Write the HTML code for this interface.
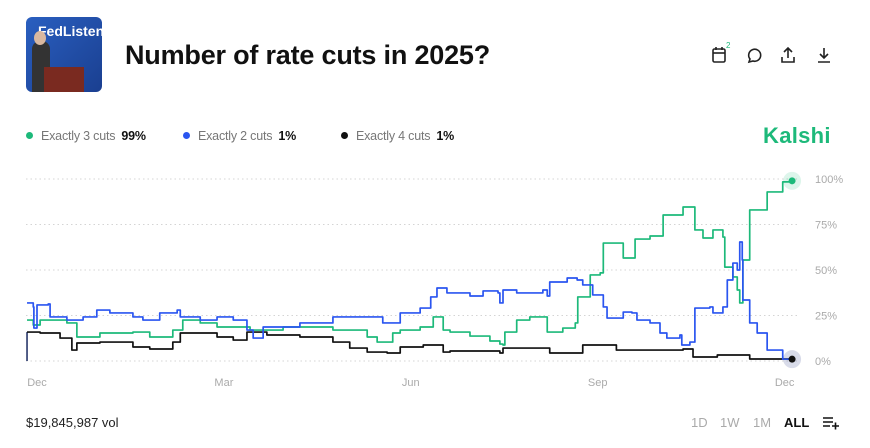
<!DOCTYPE html>
<html><head><meta charset="utf-8"><style>
body{margin:0;width:870px;height:448px;background:#fff;font-family:"Liberation Sans",sans-serif;position:relative;overflow:hidden}
.abs{position:absolute}
.leg{font-size:12.5px;color:#777;top:129px;letter-spacing:-0.2px}
.leg b{color:#111;font-weight:600;margin-left:6px}
.dot{display:inline-block;width:7px;height:7px;border-radius:50%;margin-right:8px;vertical-align:1px}
.rb{font-size:13px;color:#aaa;top:415px}
</style></head><body>
<div class="abs" style="left:26px;top:17px;width:76px;height:75px;border-radius:6px;background:linear-gradient(135deg,#2a5fc0,#1a3f90);overflow:hidden">
 <div class="abs" style="left:12px;top:6px;color:#fff;font-weight:bold;font-size:14px">FedListen</div>
 <div class="abs" style="left:6px;top:24px;width:18px;height:51px;background:#333;border-radius:8px 8px 0 0"></div>
 <div class="abs" style="left:8px;top:14px;width:12px;height:14px;background:#d9b8a0;border-radius:50%"></div>
 <div class="abs" style="left:18px;top:50px;width:40px;height:25px;background:#7a2a20"></div>
</div>
<div class="abs" style="left:125px;top:40px;font-size:27px;font-weight:600;color:#111;letter-spacing:-0.2px">Number of rate cuts in 2025?</div>
<svg class="abs" style="left:706px;top:42px" width="130" height="28">
 <g fill="none" stroke="#222" stroke-width="1.6"><rect x="7" y="7" width="12" height="13" rx="1.5"/><line x1="7" y1="11" x2="19" y2="11"/><line x1="10" y1="5" x2="10" y2="8"/><line x1="16" y1="5" x2="16" y2="8"/></g>
 <text x="20" y="6" font-size="8" fill="#1db97a" font-family="Liberation Sans">2</text>
 <path d="M43 20 l1-3 a6 6 0 1 1 3 2 z" fill="none" stroke="#222" stroke-width="1.6"/>
 <g fill="none" stroke="#222" stroke-width="1.6"><path d="M82 6 v10 M78 10 l4-4 4 4 M76 15 v5 h12 v-5"/></g>
 <g fill="none" stroke="#222" stroke-width="1.6"><path d="M118 6 v10 M114 12 l4 4 4-4 M112 20 h12"/></g>
</svg>
<div class="abs leg" style="left:26px"><span class="dot" style="background:#1db97a"></span>Exactly 3 cuts<b>99%</b></div>
<div class="abs leg" style="left:183px"><span class="dot" style="background:#2a55f0"></span>Exactly 2 cuts<b>1%</b></div>
<div class="abs leg" style="left:341px"><span class="dot" style="background:#111"></span>Exactly 4 cuts<b>1%</b></div>
<div class="abs" style="left:763px;top:123px;font-size:22px;font-weight:bold;color:#1db97a;letter-spacing:0.3px">Kalshi</div>
<svg id="chart" class="abs" style="left:0;top:160px" width="870" height="240"></svg>
<div class="abs" style="left:26px;top:415px;font-size:13px;color:#222">$19,845,987 vol</div>
<div class="abs rb" style="left:691px">1D</div>
<div class="abs rb" style="left:720px">1W</div>
<div class="abs rb" style="left:753px">1M</div>
<div class="abs rb" style="left:784px;color:#111;font-weight:600">ALL</div>
<svg class="abs" style="left:822px;top:416px" width="18" height="14"><path d="M1 2h10M1 6h10M1 10h7M10 10h7M13.5 6.5v7" stroke="#111" stroke-width="1.6"/></svg>
<script>
const monthTicks=[0,3,6,9,12];
const monthLabels=["Dec","Mar","Jun","Sep","Dec"];
const yTicks=[0,25,50,75,100];
const greenT=[-0.16,-0.06,0.05,0.48,0.64,1.01,1.54,1.81,2.18,2.34,2.62,2.89,3.42,3.95,4.75,5.30,5.46,5.71,5.83,6.15,6.36,6.52,6.63,6.95,7.27,7.43,7.48,7.51,7.70,7.91,8.19,8.44,8.64,8.68,8.88,9.04,9.09,9.28,9.41,9.60,9.84,10.05,10.37,10.48,10.56,10.69,10.85,11.01,11.04,11.17,11.24,11.28,11.33,11.44,11.72,11.97,12.12];
const greenV=[22.5,19.8,22.5,20.9,13.2,15.4,15.9,13.2,17,22.5,20.9,18.7,17,18.7,17,13.2,10.4,15.4,17,18.7,24.2,17,15.9,13.7,11,9.3,8.8,15.9,22.5,24.2,15.9,18.1,20.9,35.2,47.3,48.4,64.8,64.8,56.6,67,68.7,80.2,84.6,84.6,72,67.6,72,68.1,51.6,46.2,39,31.9,55.5,83,92.9,98.4,99];
const blueT=[-0.16,-0.06,-0.05,0,0.18,0.21,0.48,0.74,0.96,1.17,1.54,1.70,1.97,2.25,2.30,2.62,2.89,3.15,3.37,3.47,3.63,3.95,4.22,4.75,5.30,5.55,5.83,6.15,6.32,6.42,6.58,6.95,7.16,7.40,7.43,7.48,7.70,8.12,8.19,8.23,8.51,8.67,8.76,8.92,9.09,9.15,9.36,9.41,9.55,9.63,9.84,10.00,10.11,10.32,10.35,10.48,10.56,10.80,10.85,11.01,11.08,11.17,11.24,11.28,11.32,11.33,11.44,11.56,11.72,11.88,11.97,12.12];
const blueV=[31.9,29.7,18.1,30.8,31.3,24.2,22.5,24.2,28,26.4,24.2,22.5,26.4,28,24.2,22.5,24.2,22.5,17,12.6,18.7,18.7,20.9,24.2,24.2,20.9,26.4,29.1,35.2,40.1,37.4,35.7,38.5,37.4,31.9,39,37.4,39,35.7,43.4,45.6,44.5,41.8,36.3,29.7,23.6,23.6,26.9,26.4,22.5,20.9,15.4,12.6,14.3,8.8,10.4,29.1,29.7,26.4,29.7,44.5,53.8,50,65.4,55.5,33.5,20.9,15.4,6,6,1,1];
const blackT=[-0.16,0.05,0.37,0.56,0.64,1.01,1.54,1.81,2.18,2.30,2.89,3.15,3.37,3.69,4.22,4.75,5.02,5.30,5.62,5.83,6.20,6.52,6.63,7.43,7.48,8.23,8.76,9.30,10.37,10.53,10.92,11.44,12.12];
const blackV=[15.9,15.4,12.6,6,9.9,10.4,7.7,6.6,10.4,15.4,13.2,11.5,15.9,14.3,13.2,10.4,7.1,4.9,4.4,7.7,8.8,4.9,5.5,4.4,7.1,4.4,8.8,6,6.6,2.2,3.3,1.1,1];
const X=t=>37+t*62.3, Y=v=>201-v*1.82;
const svg=document.getElementById('chart'), NS='http://www.w3.org/2000/svg';
function mk(tag,attrs){const e=document.createElementNS(NS,tag);for(const k in attrs)e.setAttribute(k,attrs[k]);svg.appendChild(e);return e;}
yTicks.forEach(v=>{
 const l=mk('line',{x1:26,x2:798,y1:Y(v),y2:Y(v),stroke:'#d4d4d4','stroke-dasharray':'1.5 3'});
 
 
 const t=mk('text',{x:815,y:Y(v)+4,'font-size':11,fill:'#aaa','font-family':'Liberation Sans'});t.textContent=v+'%';
 
 
});
monthTicks.forEach((m,i)=>{
 const t=mk('text',{x:X(m),y:226,'font-size':11,fill:'#aaa','text-anchor':'middle','font-family':'Liberation Sans'});t.textContent=monthLabels[i];
 
 
});
function series(T,V,col,name){
 let d='M'+X(T[0])+' '+Y(V[0]);
 for(let i=1;i<T.length;i++){d+=' H'+X(T[i])+' V'+Y(V[i]);}
 const p=mk('path',{d:d,fill:'none',stroke:col,'stroke-width':1.7,'stroke-linejoin':'round'});
 
 
}
const bl=mk('line',{x1:X(blackT[0]),x2:X(blackT[0]),y1:Y(blackV[0]),y2:Y(0),stroke:'#1a2a60','stroke-width':1.5});


series(blackT,blackV,'#111','series-4-cuts');
series(greenT,greenV,'#1db97a','series-3-cuts');
series(blueT,blueV,'#2a55f0','series-2-cuts');
const gn=greenT.length-1,kn=blackT.length-1;
const h1=mk('circle',{cx:X(greenT[gn]),cy:Y(greenV[gn]),r:9,fill:'#1db97a','fill-opacity':0.15});


const d1=mk('circle',{cx:X(greenT[gn]),cy:Y(greenV[gn]),r:3.5,fill:'#1db97a'});


const h2=mk('circle',{cx:X(blackT[kn]),cy:Y(blackV[kn]),r:9,fill:'#3a4a90','fill-opacity':0.2});


const d2=mk('circle',{cx:X(blackT[kn]),cy:Y(blackV[kn]),r:3.5,fill:'#111'});


</script>
</body></html>
